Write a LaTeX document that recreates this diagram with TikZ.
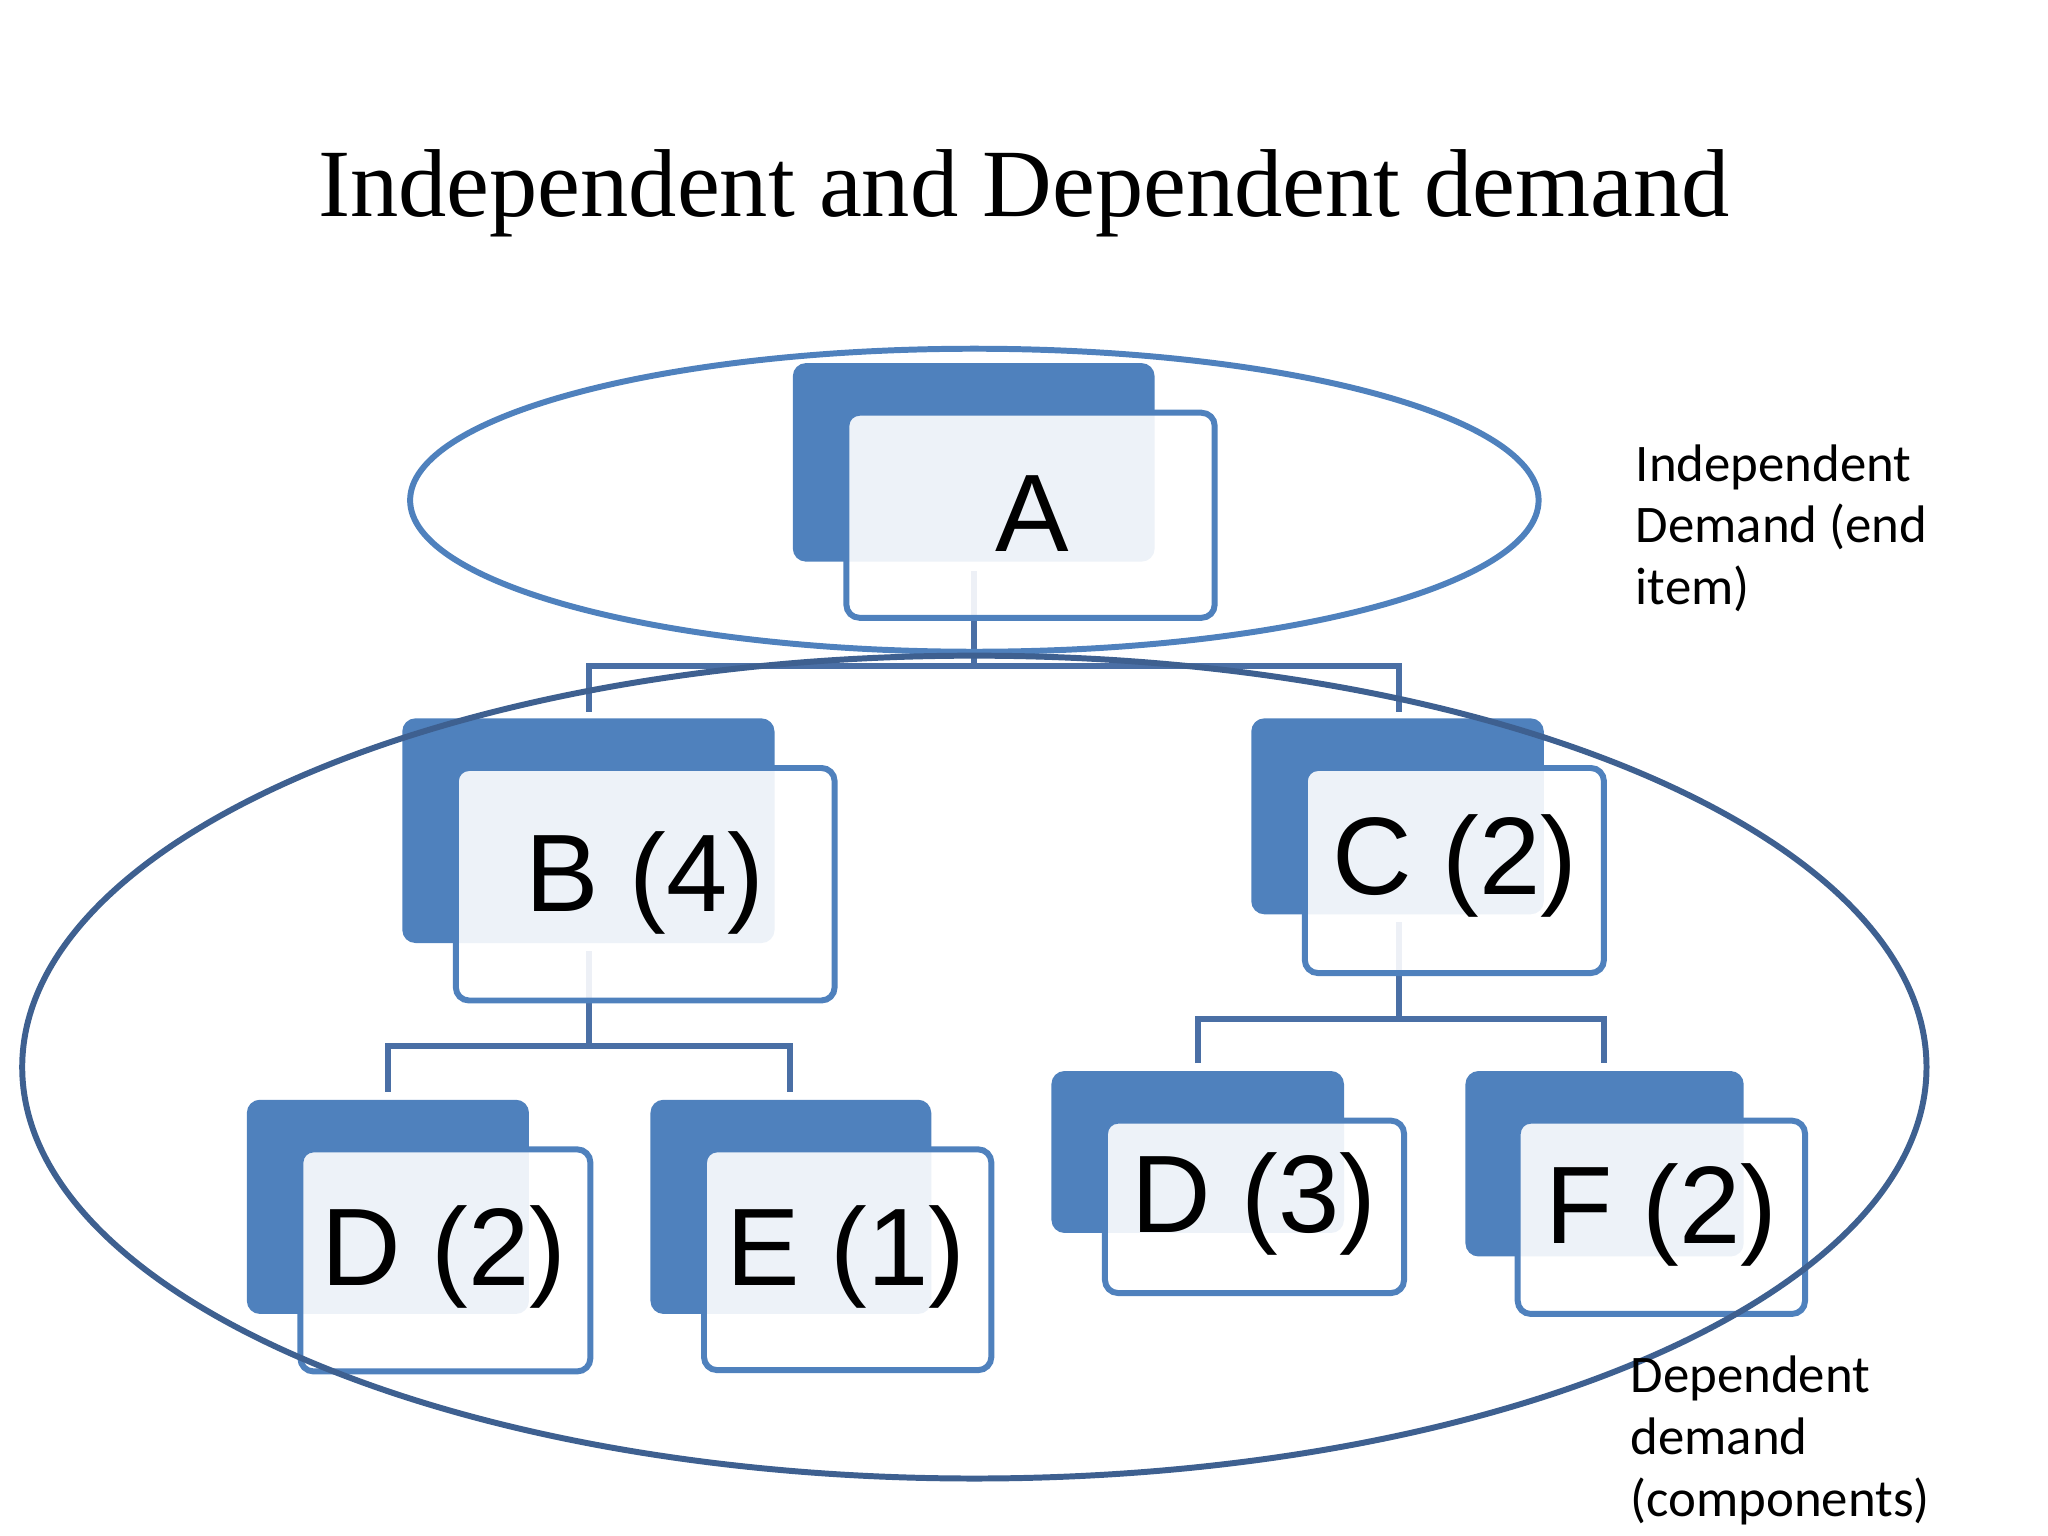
\documentclass[tikz,border=0pt]{standalone}
\usepackage{fontspec}
\setmainfont{Liberation Serif}
\newfontfamily\boxfont{Liberation Sans}
\newfontfamily\notefont{Carlito}
\usetikzlibrary{positioning,calc}
\definecolor{partblue}{HTML}{4F81BD}
\definecolor{linkblue}{HTML}{4A6FA5}
\definecolor{ringblue}{HTML}{3E6090}

\tikzset{
    backbox/.style={fill=partblue, rounded corners=1mm},
    frontbox/.style={draw=partblue, line width=1.3pt, fill=white, fill opacity=0.9,
        rounded corners=1mm},
    partlabel/.style={font=\boxfont\fontsize{24}{28}\selectfont, text=black},
    link/.style={draw=linkblue, line width=1.3pt},
    note/.style={font=\notefont\fontsize{11.5}{13.4}\selectfont, align=left, anchor=north west}
}

\begin{document}
\begin{tikzpicture}[x=0.01cm, y=-0.01cm]
    \useasboundingbox (0,0) rectangle (1568,1176);

    % title
    \node[font=\fontsize{21}{25}\selectfont] (title) at (784,148) {Independent and Dependent demand};

    % tree connectors
    \coordinate (aFoot) at (746,437);
    \coordinate (aFork) at (746,510);
    \coordinate (bHead) at (451,545);
    \coordinate (cHead) at (1071,545);
    \coordinate (bFoot) at (451,728);
    \coordinate (bFork) at (451,801);
    \coordinate (dtwoHead) at (297,836);
    \coordinate (eoneHead) at (605,836);
    \coordinate (cFoot) at (1071,706);
    \coordinate (cFork) at (1071,780);
    \coordinate (dthreeHead) at (917,814);
    \coordinate (ftwoHead) at (1228,814);
    \draw[link] (aFoot) -- (aFork) (bHead) |- (aFork) -| (cHead);
    \draw[link] (bFoot) -- (bFork) (dtwoHead) |- (bFork) -| (eoneHead);
    \draw[link] (cFoot) -- (cFork) (dthreeHead) |- (cFork) -| (ftwoHead);

    % boxes: back, then front
    \foreach \bx/\by/\bX/\bY/\fx/\fy/\fX/\fY in {
        607/278/884/430/648/316/930/473,
        308/550/593/722/349/588/639/766,
        958/550/1182/700/999/588/1228/745,
        189/842/405/1006/230/880/452/1050,
        498/842/713/1006/539/880/759/1049,
        805/820/1029/944/846/858/1075/990,
        1122/820/1335/962/1162/858/1382/1006} {
        \fill[backbox] (\bx,\by) rectangle (\bX,\bY);
        \filldraw[frontbox] (\fx,\fy) rectangle (\fX,\fY);
    }

    % labels
    \node[partlabel] (a) at (790,393) {A};
    \node[partlabel] (b) at (494,676) {B (4)};
    \node[partlabel] (c) at (1114,663) {C (2)};
    \node[partlabel] (dtwo) at (340,962) {D (2)};
    \node[partlabel] (eone) at (648,962) {E (1)};
    \node[partlabel] (dthree) at (960,922) {D (3)};
    \node[partlabel] (ftwo) at (1272,930) {F (2)};

    % demand rings
    \draw[draw=partblue, line width=1.3pt] (746,383) ellipse [x radius=432, y radius=116];
    \draw[draw=ringblue, line width=1.3pt] (746,817) ellipse [x radius=729, y radius=315];

    \node[note] (indep) at (1240,328) {Independent\\Demand (end\\item)};
    \node[note] (dep) at (1236,1026) {Dependent\\demand\\(components)};
\end{tikzpicture}
\end{document}
